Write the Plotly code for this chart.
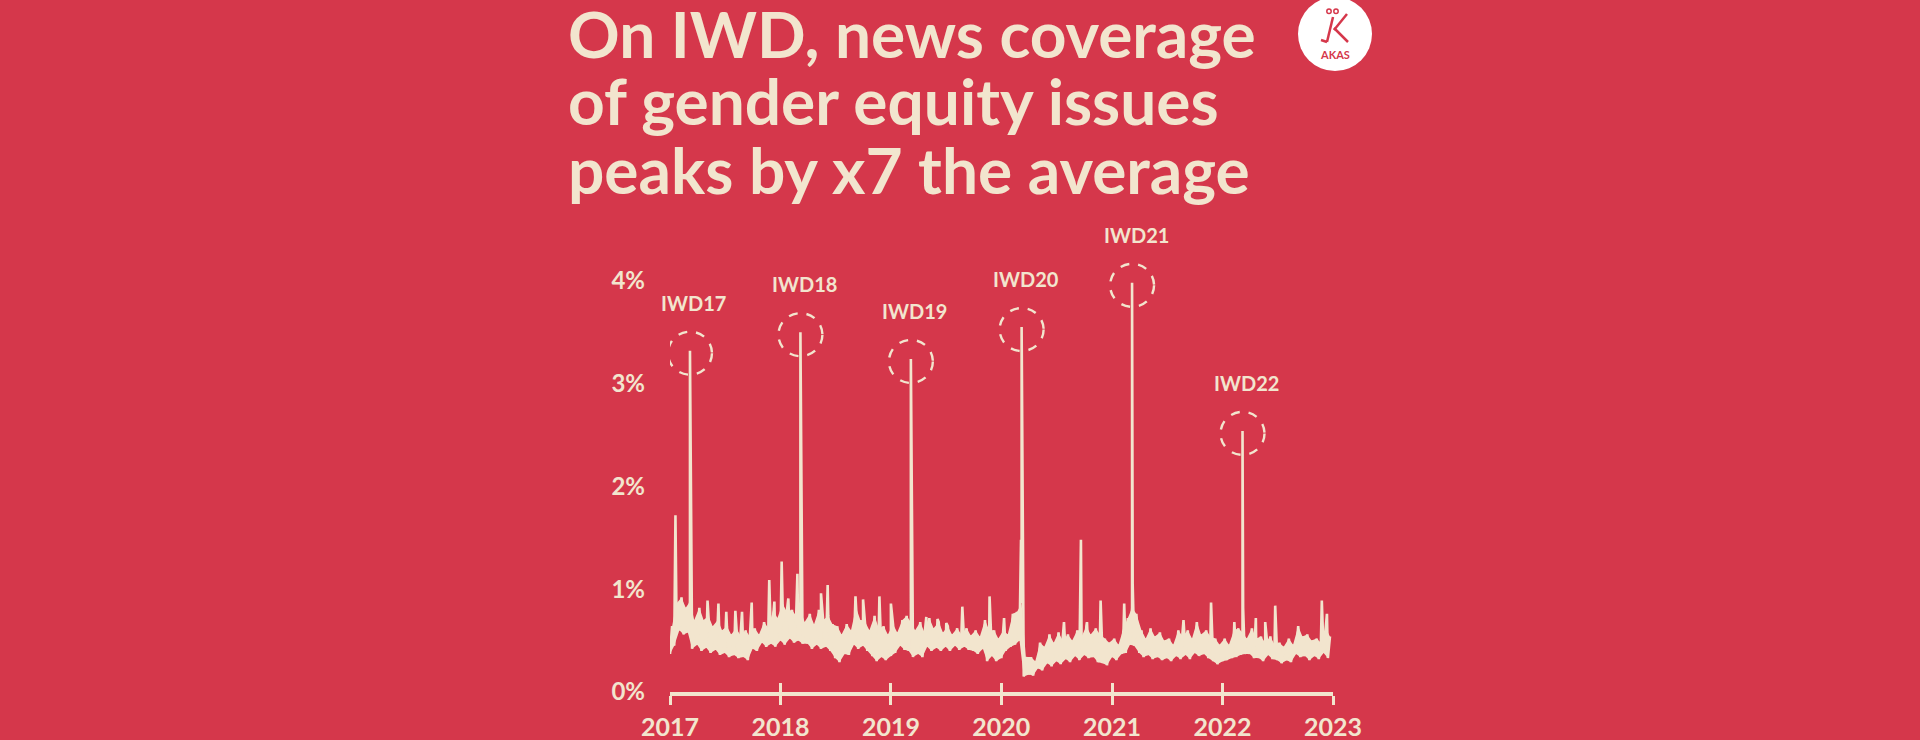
import pandas as pd
import plotly.graph_objects as go

BG = "#D5374B"
CREAM = "#F2E5CE"
FONT = "Lato"

# ---------------- data (share of news coverage, %) ----------------
# semi-monthly lows (1st & 15th) and highs (a week later) of the daily band
low_2017 = [0.37, 0.45, 0.60, 0.56, 0.58, 0.42, 0.46, 0.40, 0.43, 0.38, 0.41, 0.36,
            0.38, 0.34, 0.36, 0.33, 0.34, 0.31, 0.42, 0.40, 0.48, 0.44, 0.47, 0.44]
high_2017 = [0.64, 0.86, 0.92, 0.82, 0.88, 0.70, 0.82, 0.70, 0.74, 0.64, 0.70, 0.60,
             0.64, 0.56, 0.62, 0.55, 0.60, 0.54, 0.62, 0.56, 0.68, 0.62, 0.80, 0.72]
low_2018 = [0.50, 0.46, 0.52, 0.48, 0.50, 0.47, 0.47, 0.42, 0.46, 0.42, 0.44, 0.40,
            0.33, 0.29, 0.37, 0.36, 0.46, 0.42, 0.45, 0.40, 0.35, 0.30, 0.34, 0.31]
high_2018 = [0.86, 0.78, 0.80, 0.74, 0.80, 0.68, 0.76, 0.66, 0.80, 0.70, 0.74, 0.66,
             0.64, 0.56, 0.66, 0.60, 0.82, 0.70, 0.68, 0.60, 0.74, 0.62, 0.64, 0.56]
low_2019 = [0.35, 0.38, 0.45, 0.41, 0.40, 0.34, 0.37, 0.34, 0.44, 0.40, 0.43, 0.40,
            0.44, 0.40, 0.45, 0.41, 0.44, 0.41, 0.40, 0.37, 0.42, 0.30, 0.35, 0.30]
high_2019 = [0.66, 0.58, 0.70, 0.74, 0.68, 0.60, 0.68, 0.58, 0.72, 0.62, 0.68, 0.58,
             0.64, 0.56, 0.62, 0.56, 0.62, 0.55, 0.60, 0.54, 0.70, 0.60, 0.60, 0.52]
low_2020 = [0.33, 0.40, 0.44, 0.46, 0.50, 0.15, 0.17, 0.16, 0.23, 0.21, 0.28, 0.25,
            0.30, 0.27, 0.32, 0.29, 0.35, 0.31, 0.36, 0.33, 0.34, 0.29, 0.28, 0.26]
high_2020 = [0.60, 0.56, 0.76, 0.78, 0.86, 0.34, 0.34, 0.30, 0.48, 0.44, 0.56, 0.48,
             0.58, 0.50, 0.56, 0.50, 0.60, 0.54, 0.64, 0.56, 0.62, 0.56, 0.52, 0.48]
low_2021 = [0.34, 0.31, 0.37, 0.38, 0.46, 0.45, 0.38, 0.34, 0.36, 0.32, 0.34, 0.31,
            0.33, 0.30, 0.35, 0.32, 0.36, 0.32, 0.38, 0.35, 0.37, 0.33, 0.30, 0.27]
high_2021 = [0.52, 0.46, 0.62, 0.72, 0.82, 0.76, 0.60, 0.52, 0.62, 0.54, 0.58, 0.50,
             0.52, 0.46, 0.60, 0.54, 0.60, 0.52, 0.68, 0.56, 0.60, 0.54, 0.52, 0.46]
low_2022 = [0.30, 0.31, 0.33, 0.34, 0.36, 0.37, 0.37, 0.33, 0.33, 0.30, 0.36, 0.32,
            0.31, 0.28, 0.31, 0.29, 0.37, 0.34, 0.35, 0.31, 0.35, 0.32, 0.38, 0.33]
high_2022 = [0.52, 0.46, 0.60, 0.62, 0.58, 0.52, 0.62, 0.52, 0.54, 0.48, 0.54, 0.46,
             0.48, 0.44, 0.52, 0.46, 0.64, 0.54, 0.56, 0.50, 0.52, 0.48, 0.62, 0.54]

# other one-day spikes
spike_dates = ["2017-01-19", "2017-05-05", "2017-06-10", "2017-07-06", "2017-08-05",
               "2017-08-27", "2017-09-28", "2017-11-25", "2017-12-12", "2018-01-05",
               "2018-01-27", "2018-02-26", "2018-05-15", "2018-06-06", "2018-09-06",
               "2018-10-01", "2018-11-24", "2019-01-01", "2019-04-28", "2019-06-04",
               "2019-07-03", "2019-08-25", "2019-11-23", "2020-01-10", "2020-03-06",
               "2020-07-26", "2020-09-20", "2020-10-10", "2020-11-24", "2021-02-10",
               "2021-03-10", "2021-08-25", "2021-11-24", "2022-02-09", "2022-03-10",
               "2022-04-21", "2022-05-22", "2022-06-24", "2022-11-25", "2022-12-12"]
spike_values = [1.72, 0.89, 0.86, 0.78, 0.79,
                0.78, 0.87, 1.09, 0.88, 1.27,
                0.91, 1.15, 0.96, 1.04, 0.93,
                0.90, 0.93, 0.86, 0.73, 0.71,
                0.67, 0.83, 0.93, 0.72, 1.48,
                0.68, 1.48, 0.68, 0.89, 0.86,
                1.05, 0.70, 0.87, 0.68, 0.82,
                0.72, 0.68, 0.84, 0.89, 0.76]

# International Women's Day peaks
iwd_labels = ["IWD17", "IWD18", "IWD19", "IWD20", "IWD21", "IWD22"]
iwd_dates = ["2017-03-08", "2018-03-08", "2019-03-08", "2020-03-08", "2021-03-08", "2022-03-08"]
iwd_peaks = [3.32, 3.50, 3.24, 3.55, 3.98, 2.54]

year_ticks = ["2017-01-01", "2018-01-01", "2019-01-01", "2020-01-01",
              "2021-01-01", "2022-01-01", "2023-01-01"]
year_labels = ["2017", "2018", "2019", "2020", "2021", "2022", "2023"]
y_ticks = [0, 1, 2, 3, 4]
y_labels = ["0%", "1%", "2%", "3%", "4%"]

title_lines = ["On IWD, news coverage", "of gender equity issues", "peaks by x7 the average"]

# ---------------- assemble daily-like series ----------------
lows = low_2017 + low_2018 + low_2019 + low_2020 + low_2021 + low_2022
highs = high_2017 + high_2018 + high_2019 + high_2020 + high_2021 + high_2022
low_dates = pd.date_range("2017-01-01", periods=len(lows), freq="SMS")
high_dates = low_dates + pd.Timedelta(days=7)

series = pd.DataFrame({
    "date": list(low_dates) + list(high_dates) + list(pd.to_datetime(spike_dates))
            + list(pd.to_datetime(iwd_dates)),
    "value": lows + highs + spike_values + iwd_peaks,
})
series = series.sort_values("date", kind="stable")

# ---------------- layout geometry ----------------
W, H = 1920, 740
L, R, T, B = 670, 587, 230, 48
PW, PH = W - L - R, H - T - B


def px_x(px):
    return (px - L) / PW


def px_y(py):
    return (H - B - py) / PH


fig = go.Figure()
# solid body of the daily band
fig.add_trace(go.Scatter(
    x=low_dates, y=lows, mode="lines", line=dict(color=CREAM, width=0),
    hoverinfo="skip",
))
fig.add_trace(go.Scatter(
    x=high_dates, y=highs, mode="lines", line=dict(color=CREAM, width=0),
    fill="tonexty", fillcolor=CREAM, hoverinfo="skip",
))
# the daily line with its spikes
fig.add_trace(go.Scatter(
    x=series["date"], y=series["value"], mode="lines",
    line=dict(color=CREAM, width=2.6), hoverinfo="skip",
))
# helper trace so the overlaid axis (inner half of the cross ticks) is drawn
fig.add_trace(go.Scatter(
    x=[year_ticks[0]], y=[y_ticks[0]], xaxis="x2", mode="markers",
    marker=dict(opacity=0), hoverinfo="skip",
))

shapes = []
annotations = []
for lab, d, p in zip(iwd_labels, iwd_dates, iwd_peaks):
    shapes.append(dict(
        type="circle", xref="x", yref="y", xsizemode="pixel", ysizemode="pixel",
        xanchor=d, yanchor=p, x0=-22, x1=22, y0=-24, y1=19,
        line=dict(color=CREAM, width=2.4, dash="dash"), fillcolor="rgba(0,0,0,0)",
    ))
    annotations.append(dict(
        x=d, y=p, xref="x", yref="y", text=lab, showarrow=False,
        xshift=4, yshift=48, xanchor="center", yanchor="middle",
        font=dict(family=FONT, size=20, color=CREAM, weight="bold"),
    ))

for line, cy in zip(title_lines, [33, 101, 169]):
    annotations.append(dict(
        x=px_x(566), y=px_y(cy), xref="paper", yref="paper", text=line,
        showarrow=False, xanchor="left", yanchor="middle",
        font=dict(family=FONT, size=64, color=CREAM, weight="bold"),
    ))

# logo
shapes.append(dict(type="circle", xref="paper", yref="paper", layer="above",
                   x0=px_x(1298), x1=px_x(1372), y0=px_y(71), y1=px_y(-3),
                   fillcolor="white", line=dict(width=0)))
for (xa, ya, xb, yb) in [(1333, 17, 1327, 42), (1347, 14, 1334, 30), (1334, 28, 1348, 42),
                         (1327, 42, 1321, 40)]:
    shapes.append(dict(type="line", xref="paper", yref="paper",
                       x0=px_x(xa), y0=px_y(ya), x1=px_x(xb), y1=px_y(yb),
                       line=dict(color=BG, width=2.5)))
for cx in (1329, 1336):
    shapes.append(dict(type="circle", xref="paper", yref="paper",
                       x0=px_x(cx - 2.2), x1=px_x(cx + 2.2), y0=px_y(13.5), y1=px_y(9),
                       line=dict(color=BG, width=1.5), fillcolor="white"))
annotations.append(dict(x=px_x(1335), y=px_y(55), xref="paper", yref="paper", text="AKAS",
                        showarrow=False, xanchor="center", yanchor="middle",
                        font=dict(family=FONT, size=11, color=BG, weight="bold")))

axis_common = dict(type="date", range=[year_ticks[0], year_ticks[-1]], showgrid=False,
                   zeroline=False, tickvals=year_ticks, tickcolor=CREAM,
                   ticklen=9, tickwidth=3, automargin=False)

fig.update_layout(
    width=W, height=H, paper_bgcolor=BG, plot_bgcolor=BG,
    margin=dict(l=L, r=R, t=T, b=B, autoexpand=False), showlegend=False,
    xaxis=dict(**axis_common, ticks="outside", ticktext=year_labels,
               showline=True, linecolor=CREAM, linewidth=4,
               ticklabelstandoff=1,
               tickfont=dict(family=FONT, size=25, color=CREAM, weight="bold")),
    xaxis2=dict(**axis_common, ticks="inside", overlaying="x", matches="x",
                anchor="y", side="bottom", showticklabels=False, showline=False),
    yaxis=dict(range=[0, PH / 102.8], tickvals=y_ticks, ticktext=y_labels,
               showgrid=False, zeroline=False, showline=False, ticks="",
               ticklabelstandoff=24, automargin=False,
               tickfont=dict(family=FONT, size=24, color=CREAM, weight="bold")),
    shapes=shapes, annotations=annotations,
)

fig.write_html("out.html")
